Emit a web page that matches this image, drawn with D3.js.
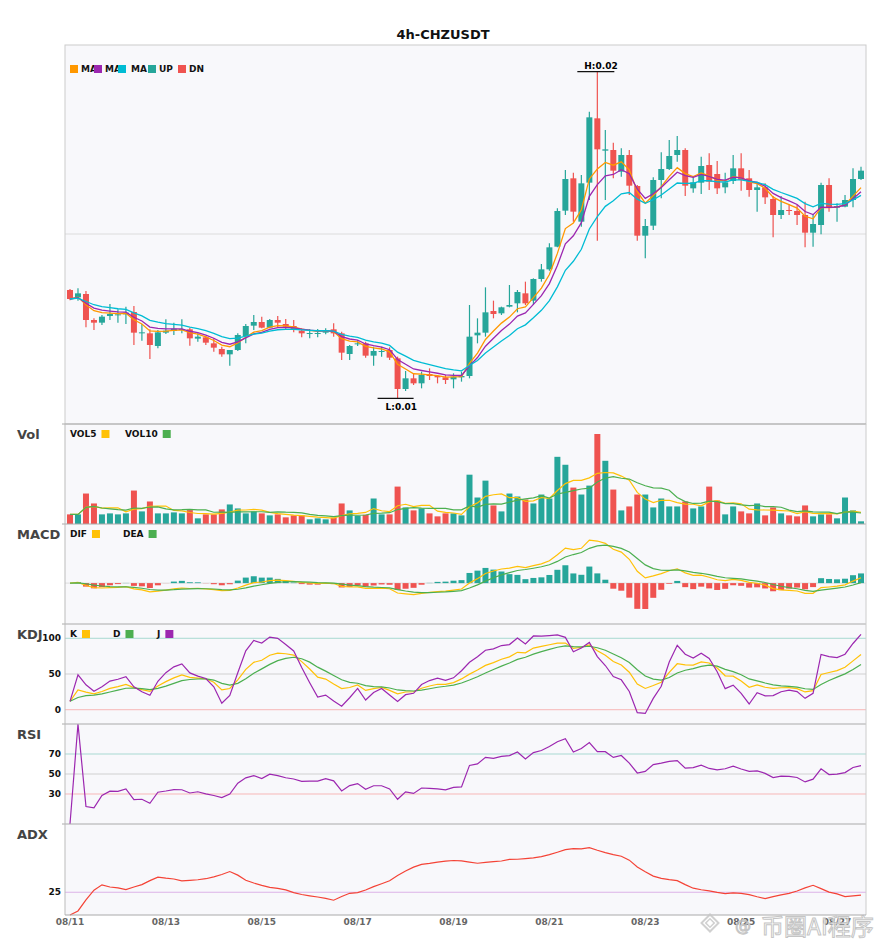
<!DOCTYPE html>
<html>
<head>
<meta charset="utf-8">
<script src="https://cdn.jsdelivr.net/npm/d3@7"></script>
<style>
  body { margin: 0; background: #fff; font-family: "DejaVu Sans", sans-serif; }
</style>
</head>
<body>
<div id="chart"></div>
<script>
// 4h candles, 08/11 00:00 -> 08/27 12:00
const open = [0.01832,0.01810,0.01820,0.01742,0.01734,0.01754,0.01756,0.01759,0.01766,0.01702,
  0.01702,0.01664,0.01704,0.01709,0.01712,0.01714,0.01686,0.01690,0.01672,0.01655,
  0.01639,0.01652,0.01694,0.01725,0.01736,0.01719,0.01742,0.01730,0.01724,0.01710,
  0.01702,0.01701,0.01704,0.01714,0.01702,0.01640,0.01671,0.01672,0.01635,0.01647,
  0.01652,0.01627,0.01535,0.01567,0.01552,0.01580,0.01574,0.01570,0.01564,0.01570,
  0.01574,0.01696,0.01704,0.01769,0.01762,0.01782,0.01792,0.01822,0.01800,0.01865,
  0.01894,0.01962,0.02070,0.02167,0.02037,0.02154,0.02347,0.02250,0.02252,0.02187,
  0.02237,0.02144,0.01995,0.02025,0.02162,0.02195,0.02237,0.02252,0.02137,0.02154,
  0.02207,0.02180,0.02140,0.02159,0.02197,0.02167,0.02132,0.02140,0.02105,0.02057,
  0.02072,0.02069,0.02057,0.02004,0.02027,0.02147,0.02079,0.02082,0.02102,0.02165];
const high = [0.01835,0.01837,0.01829,0.01747,0.01757,0.01790,0.01774,0.01782,0.01784,0.01730,
  0.01714,0.01712,0.01744,0.01734,0.01744,0.01719,0.01702,0.01694,0.01687,0.01662,
  0.01652,0.01702,0.01730,0.01757,0.01752,0.01745,0.01754,0.01745,0.01742,0.01717,
  0.01715,0.01715,0.01717,0.01732,0.01707,0.01667,0.01682,0.01677,0.01662,0.01662,
  0.01660,0.01632,0.01589,0.01582,0.01587,0.01597,0.01577,0.01577,0.01582,0.01587,
  0.01787,0.01747,0.01840,0.01800,0.01782,0.01847,0.01832,0.01857,0.01867,0.01910,
  0.01972,0.02077,0.02192,0.02184,0.02177,0.02367,0.02487,0.02312,0.02274,0.02257,
  0.02252,0.02147,0.02045,0.02170,0.02245,0.02282,0.02294,0.02257,0.02172,0.02232,
  0.02242,0.02219,0.02184,0.02237,0.02242,0.02192,0.02157,0.02152,0.02114,0.02114,
  0.02090,0.02087,0.02097,0.02060,0.02154,0.02167,0.02092,0.02117,0.02197,0.02202];
const low = [0.01801,0.01800,0.01720,0.01712,0.01727,0.01742,0.01734,0.01730,0.01667,0.01680,
  0.01625,0.01657,0.01700,0.01697,0.01702,0.01665,0.01677,0.01667,0.01647,0.01632,
  0.01605,0.01649,0.01672,0.01712,0.01717,0.01717,0.01720,0.01714,0.01705,0.01690,
  0.01687,0.01690,0.01699,0.01692,0.01622,0.01622,0.01664,0.01629,0.01605,0.01632,
  0.01622,0.01507,0.01529,0.01547,0.01537,0.01562,0.01552,0.01550,0.01537,0.01557,
  0.01567,0.01672,0.01692,0.01747,0.01757,0.01780,0.01765,0.01787,0.01787,0.01857,
  0.01890,0.01960,0.02057,0.02037,0.02022,0.02102,0.01980,0.02102,0.02167,0.02172,
  0.02117,0.01980,0.01927,0.02012,0.02107,0.02192,0.02217,0.02114,0.02124,0.02120,
  0.02132,0.02120,0.02122,0.02150,0.02130,0.02112,0.02067,0.02090,0.01990,0.02045,
  0.02057,0.02027,0.01960,0.01962,0.01999,0.02067,0.02037,0.02080,0.02080,0.02162];
const close = [0.01805,0.01822,0.01742,0.01734,0.01752,0.01760,0.01759,0.01764,0.01704,0.01705,
  0.01667,0.01705,0.01710,0.01716,0.01715,0.01687,0.01692,0.01674,0.01659,0.01639,
  0.01652,0.01697,0.01724,0.01736,0.01719,0.01742,0.01734,0.01722,0.01715,0.01702,
  0.01703,0.01703,0.01712,0.01702,0.01644,0.01664,0.01672,0.01635,0.01649,0.01649,
  0.01629,0.01535,0.01567,0.01552,0.01577,0.01574,0.01570,0.01562,0.01572,0.01574,
  0.01692,0.01704,0.01765,0.01760,0.01780,0.01787,0.01826,0.01792,0.01865,0.01894,
  0.01960,0.02069,0.02165,0.02067,0.02152,0.02350,0.02254,0.02254,0.02190,0.02237,
  0.02145,0.01995,0.02024,0.02162,0.02195,0.02234,0.02252,0.02145,0.02155,0.02204,
  0.02157,0.02137,0.02155,0.02197,0.02162,0.02132,0.02140,0.02110,0.02057,0.02072,
  0.02069,0.02057,0.02004,0.02030,0.02147,0.02079,0.02084,0.02102,0.02165,0.02190];
// volume, millions
const volume = [9.7,9.7,30.7,20.7,9.7,10.7,9.7,10.7,33.7,12.7,
  22.7,10.7,10.7,11.7,10.7,14,5.7,9.7,9.7,14.7,
  19.7,15.7,10.7,12.7,10.7,8.7,9.7,6.7,8.7,8.7,
  4.7,5.7,4.7,6.3,20.7,13.7,8.3,9.3,25.7,9.7,
  9.7,37.7,16.7,13.7,15.7,10.7,7.7,10.7,10.7,8.7,
  49.7,26.7,43.7,18.7,12.7,30.7,27.7,24.7,20.7,29.7,
  25.7,67.7,59.7,36.7,29.7,38.7,90.7,63.7,34.7,13.7,
  17.7,29.7,29.7,16.7,25.7,17.7,17.7,22.7,15.7,17.7,
  37.7,23.7,9.7,17.7,12.7,10.7,20.7,8.7,16.7,10.7,
  8.7,7.7,18.7,7.7,9.7,9.7,5.7,26.7,13.7,2.7];
const dayLabels = ["08/11","08/13","08/15","08/17","08/19","08/21","08/23","08/25","08/27"];
const maPeriods = [5, 7, 12];
const macdPeriods = [6, 13, 5];

const UP = "#26a69a", DN = "#ef5350";
const n = close.length;

// ---- indicators derived from the candles ----
const ema = (arr, p) => { const k = 2 / (p + 1); let prev; return arr.map((v, i) => prev = i === 0 ? v : prev + k * (v - prev)); };
const sma = (arr, p) => arr.map((v, i) => d3.mean(arr.slice(Math.max(0, i - p + 1), i + 1)));

const maLines = maPeriods.map(p => ema(close, p));
const vol5 = sma(volume, 5), vol10 = sma(volume, 10);

const emaFast = ema(close, macdPeriods[0]), emaSlow = ema(close, macdPeriods[1]);
const dif = emaFast.map((v, i) => v - emaSlow[i]);
const dea = ema(dif, macdPeriods[2]);
const hist = dif.map((v, i) => 2 * (v - dea[i]));

// KDJ 9,3,3
const kArr = [], dArr = [], jArr = [];
close.forEach((c, i) => {
    const hh = d3.max(high.slice(Math.max(0, i - 8), i + 1));
    const ll = d3.min(low.slice(Math.max(0, i - 8), i + 1));
    const rsv = hh === ll ? 50 : (c - ll) / (hh - ll) * 100;
    const k = i === 0 ? rsv : (2 * kArr[i - 1] + rsv) / 3;
    const d = i === 0 ? rsv : (2 * dArr[i - 1] + k) / 3;
    kArr.push(k); dArr.push(d); jArr.push(3 * k - 2 * d);
});

// RSI 14
let ag = 0, al = 0;
const rsi = close.map((c, i) => {
    if (i === 0) return 0;
    const ch = c - close[i - 1];
    const g = Math.max(ch, 0), l = Math.max(-ch, 0);
    if (i <= 14) { ag = (ag * (i - 1) + g) / i; al = (al * (i - 1) + l) / i; }
    else { ag = (ag * 13 + g) / 14; al = (al * 13 + l) / 14; }
    if (al === 0) return ag === 0 ? 0 : 100;
    return 100 - 100 / (1 + ag / al);
});

// ADX 14
const pdm = high.map((h, i) => i === 0 ? 0 : Math.max(h - high[i - 1], 0));
const mdm = low.map((l, i) => i === 0 ? 0 : Math.max(low[i - 1] - l, 0));
const sP = ema(pdm, 14), sM = ema(mdm, 14);
const dx = sP.map((v, i) => (v + sM[i]) === 0 ? 0 : 100 * Math.abs(v - sM[i]) / (v + sM[i]));
const adx = ema(dx, 14);

// ---- layout ----
const W = 885, H = 950, L = 65, R = 866;
const svg = d3.select("#chart").append("svg")
    .attr("width", W)
    .attr("height", H)
    .style("font-family", "'DejaVu Sans', sans-serif");

const x = d3.scaleBand().domain(d3.range(n)).range([L, R]).padding(0.25);
const cx = i => x(i) + x.bandwidth() / 2;

const panels = [
    { name: "", top: 45, bottom: 424 },
    { name: "Vol", top: 424, bottom: 524 },
    { name: "MACD", top: 524, bottom: 624 },
    { name: "KDJ", top: 624, bottom: 724 },
    { name: "RSI", top: 724, bottom: 824 },
    { name: "ADX", top: 824, bottom: 915 }
];

// backgrounds
svg.selectAll("rect.bg")
    .data(panels)
    .enter()
    .append("rect")
    .attr("x", L).attr("y", d => d.top)
    .attr("width", R - L).attr("height", d => d.bottom - d.top)
    .attr("fill", "#f8f8fb");

// title
svg.append("text")
    .attr("x", 443).attr("y", 39)
    .attr("text-anchor", "middle")
    .style("font-size", "13px").style("font-weight", "bold")
    .attr("fill", "#111")
    .text("4h-CHZUSDT");

// panel names
svg.selectAll("text.pname")
    .data(panels.filter(p => p.name))
    .enter()
    .append("text")
    .attr("x", 17).attr("y", d => d.top + 15)
    .style("font-size", "13px").style("font-weight", "bold")
    .attr("fill", "#444")
    .text(d => d.name);

// ---- main price panel ----
const yP = d3.scaleLinear().domain([0.0143, 0.02567]).range([424, 45]);

svg.append("g")
    .selectAll("line")
    .data(yP.ticks(1))
    .enter()
    .append("line")
    .attr("x1", L).attr("x2", R)
    .attr("y1", d => yP(d)).attr("y2", d => yP(d))
    .attr("stroke", "#dcdcdc");

const candles = svg.append("g")
    .selectAll("g")
    .data(d3.range(n))
    .enter()
    .append("g");

candles.append("line")
    .attr("x1", i => cx(i)).attr("x2", i => cx(i))
    .attr("y1", i => yP(high[i])).attr("y2", i => yP(low[i]))
    .attr("stroke", i => close[i] >= open[i] ? UP : DN)
    .attr("stroke-width", 1.2);

candles.append("rect")
    .attr("x", i => x(i))
    .attr("width", x.bandwidth())
    .attr("y", i => yP(Math.max(open[i], close[i])))
    .attr("height", i => Math.max(1, Math.abs(yP(open[i]) - yP(close[i]))))
    .attr("fill", i => close[i] >= open[i] ? UP : DN);

const maColors = ["#ff9800", "#9c27b0", "#00bcd4"];
maLines.forEach((m, k) => {
    svg.append("path")
        .datum(m)
        .attr("fill", "none")
        .attr("stroke", maColors[k])
        .attr("stroke-width", 1.3)
        .attr("d", d3.line().x((d, i) => cx(i)).y(d => yP(d)));
});

// high / low markers (truncated to 2 decimals)
const iHi = d3.maxIndex(high), iLo = d3.minIndex(low);
const trunc2 = v => (Math.floor(v * 100) / 100).toFixed(2);
svg.append("line")
    .attr("x1", cx(iHi) - 20).attr("x2", cx(iHi) + 17)
    .attr("y1", yP(high[iHi])).attr("y2", yP(high[iHi]))
    .attr("stroke", "#111").attr("stroke-width", 1.2);
svg.append("text")
    .attr("x", cx(iHi) - 13).attr("y", yP(high[iHi]) - 3)
    .style("font-size", "9px").style("font-weight", "bold")
    .text("H:" + trunc2(high[iHi]));
svg.append("line")
    .attr("x1", cx(iLo) - 20).attr("x2", cx(iLo) + 16)
    .attr("y1", yP(low[iLo])).attr("y2", yP(low[iLo]))
    .attr("stroke", "#111").attr("stroke-width", 1.2);
svg.append("text")
    .attr("x", cx(iLo) - 12).attr("y", yP(low[iLo]) + 12)
    .style("font-size", "9px").style("font-weight", "bold")
    .text("L:" + trunc2(low[iLo]));

// main legend
const mainLegend = [
    { t: "MA", c: maColors[0], sx: 70, tx: 81 },
    { t: "MA", c: maColors[1], sx: 94, tx: 105 },
    { t: "MA", c: maColors[2], sx: 118, tx: 131 },
    { t: "UP", c: UP, sx: 148, tx: 159 },
    { t: "DN", c: DN, sx: 178, tx: 189 }
];
mainLegend.forEach(d => {
    svg.append("text")
        .attr("x", d.tx).attr("y", 72)
        .style("font-size", "9px").style("font-weight", "bold")
        .attr("fill", "#111")
        .text(d.t);
});
mainLegend.forEach(d => {
    svg.append("rect")
        .attr("x", d.sx).attr("y", 65)
        .attr("width", 8).attr("height", 8)
        .attr("fill", d.c);
});

// sub-panel legend helper: text then colour square
function subLegend(items, y) {
    items.forEach(d => {
        const t = svg.append("text")
            .attr("x", d.x).attr("y", y)
            .style("font-size", "9px").style("font-weight", "bold")
            .attr("fill", "#111")
            .text(d.t);
        const w = t.node().getComputedTextLength();
        svg.append("rect")
            .attr("x", d.x + w + 5).attr("y", y - 7)
            .attr("width", 8).attr("height", 8)
            .attr("fill", d.c);
    });
}

const line = (data, scale) => d3.line().x((d, i) => cx(i)).y(d => scale(d))(data);

// ---- volume ----
const yV = d3.scaleLinear().domain([0, d3.max(volume) * 1.1]).range([524, 425]);
svg.append("g")
    .selectAll("rect")
    .data(volume)
    .enter()
    .append("rect")
    .attr("x", (d, i) => x(i))
    .attr("width", x.bandwidth())
    .attr("y", d => yV(d))
    .attr("height", d => yV(0) - yV(d))
    .attr("fill", (d, i) => close[i] >= open[i] ? UP : DN);
svg.append("path").attr("d", line(vol5, yV)).attr("fill", "none").attr("stroke", "#ffc107").attr("stroke-width", 1.2);
svg.append("path").attr("d", line(vol10, yV)).attr("fill", "none").attr("stroke", "#4caf50").attr("stroke-width", 1.2);
subLegend([{ t: "VOL5", c: "#ffc107", x: 70 }, { t: "VOL10", c: "#4caf50", x: 125 }], 437);

// ---- MACD ----
const mMax = d3.max(dif.concat(dea, hist));
const yM = d3.scaleLinear().domain([-0.95 * mMax, 1.35 * mMax]).range([624, 525]);
svg.append("line")
    .attr("x1", L).attr("x2", R).attr("y1", yM(0)).attr("y2", yM(0))
    .attr("stroke", "#ddd");
svg.append("g")
    .selectAll("rect")
    .data(hist)
    .enter()
    .append("rect")
    .attr("x", (d, i) => x(i))
    .attr("width", x.bandwidth())
    .attr("y", d => yM(Math.max(0, d)))
    .attr("height", d => Math.abs(yM(d) - yM(0)))
    .attr("fill", d => d >= 0 ? UP : DN);
svg.append("path").attr("d", line(dif, yM)).attr("fill", "none").attr("stroke", "#ffc107").attr("stroke-width", 1.2);
svg.append("path").attr("d", line(dea, yM)).attr("fill", "none").attr("stroke", "#4caf50").attr("stroke-width", 1.2);
subLegend([{ t: "DIF", c: "#ffc107", x: 70 }, { t: "DEA", c: "#4caf50", x: 123 }], 537);

// ---- reference levels + tick labels ----
function levels(scale, list) {
    list.forEach(d => {
        svg.append("line")
            .attr("x1", L).attr("x2", R)
            .attr("y1", scale(d.v)).attr("y2", scale(d.v))
            .attr("stroke", d.c);
        svg.append("text")
            .attr("x", 61).attr("y", scale(d.v)).attr("dy", "0.35em")
            .attr("text-anchor", "end")
            .style("font-size", "9px").style("font-weight", "bold")
            .attr("fill", "#111")
            .text(d.v);
    });
}

// ---- KDJ ----
const yK = d3.scaleLinear().domain([-20, 120]).range([724, 624]);
levels(yK, [{ v: 100, c: "#a8d9d2" }, { v: 50, c: "#d0d0d0" }, { v: 0, c: "#f7b7b7" }]);
svg.append("path").attr("d", line(kArr, yK)).attr("fill", "none").attr("stroke", "#ffc107").attr("stroke-width", 1.2);
svg.append("path").attr("d", line(dArr, yK)).attr("fill", "none").attr("stroke", "#4caf50").attr("stroke-width", 1.2);
svg.append("path").attr("d", line(jArr, yK)).attr("fill", "none").attr("stroke", "#9c27b0").attr("stroke-width", 1.2);
subLegend([{ t: "K", c: "#ffc107", x: 70 }, { t: "D", c: "#4caf50", x: 113 }, { t: "J", c: "#9c27b0", x: 157 }], 637);

// ---- RSI ----
const yR = d3.scaleLinear().domain([0, 100]).range([824, 724]);
levels(yR, [{ v: 70, c: "#a8d9d2" }, { v: 50, c: "#d0d0d0" }, { v: 30, c: "#f7b7b7" }]);
svg.append("path").attr("d", line(rsi, yR)).attr("fill", "none").attr("stroke", "#9c27b0").attr("stroke-width", 1.2);

// ---- ADX ----
const yA = d3.scaleLinear().domain([0, 100]).range([915, 824]);
levels(yA, [{ v: 25, c: "#dcb3e8" }]);
svg.append("path").attr("d", line(adx, yA)).attr("fill", "none").attr("stroke", "#f44336").attr("stroke-width", 1.2);

// ---- frames ----
svg.append("rect")
    .attr("x", L).attr("y", 45).attr("width", R - L).attr("height", 379)
    .attr("fill", "none").attr("stroke", "#ccc");
panels.slice(1).forEach(p => {
    svg.append("line")
        .attr("x1", L - 3).attr("x2", R).attr("y1", p.top).attr("y2", p.top)
        .attr("stroke", "#aaa");
});
svg.append("line").attr("x1", L).attr("x2", L).attr("y1", 424).attr("y2", 915).attr("stroke", "#bbb");
svg.append("line").attr("x1", R).attr("x2", R).attr("y1", 424).attr("y2", 915).attr("stroke", "#ccc");
svg.append("line").attr("x1", L).attr("x2", R).attr("y1", 915).attr("y2", 915).attr("stroke", "#aaa");

// x axis day labels, every 12 candles
svg.append("g")
    .selectAll("text")
    .data(dayLabels)
    .enter()
    .append("text")
    .attr("x", (d, k) => cx(k * 12))
    .attr("y", 925)
    .attr("text-anchor", "middle")
    .style("font-size", "9px").style("font-weight", "bold")
    .attr("fill", "#666")
    .text(d => d);

// watermark (drawn over the axis like the original)
const wm = svg.append("g").attr("opacity", 0.85);
wm.append("rect")
    .attr("x", 704).attr("y", 917).attr("width", 12).attr("height", 12)
    .attr("transform", "rotate(45 710 923)")
    .attr("fill", "#fff").attr("stroke", "#c8c8c8").attr("stroke-width", 2);
wm.append("rect")
    .attr("x", 707).attr("y", 920).attr("width", 6).attr("height", 6)
    .attr("transform", "rotate(45 710 923)")
    .attr("fill", "#fff").attr("stroke", "#c8c8c8").attr("stroke-width", 1.5);
wm.append("text")
    .attr("x", 735).attr("y", 931)
    .style("font-size", "16px")
    .attr("fill", "#fff").attr("stroke", "#bbb").attr("stroke-width", 1)
    .text("@");
wm.append("text")
    .attr("x", 761).attr("y", 935)
    .style("font-family", "'Noto Sans CJK SC', sans-serif")
    .style("font-size", "23px")
    .attr("fill", "#fff").attr("stroke", "#bbb").attr("stroke-width", 1)
    .text("币圈AI程序");
</script>
</body>
</html>
